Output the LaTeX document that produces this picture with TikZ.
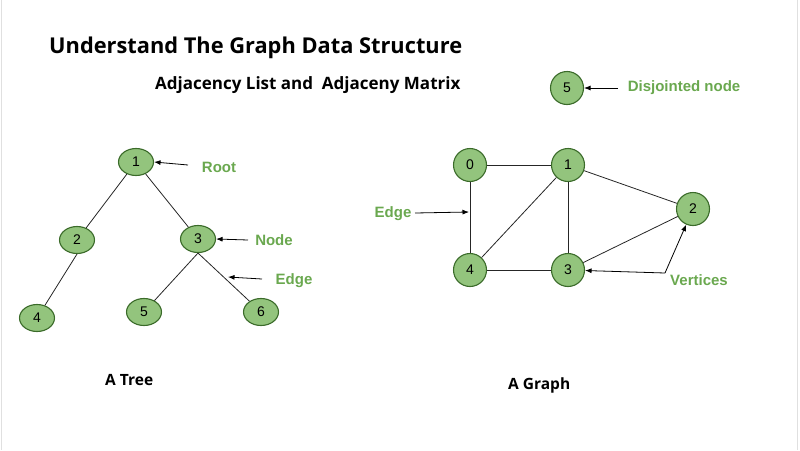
\documentclass[tikz,border=0pt]{standalone}
\usepackage{fontspec}
\setmainfont{Liberation Sans}
\newfontfamily\titlefont{Open Sans}
\usetikzlibrary{shapes.geometric,arrows.meta}
\definecolor{nodefill}{HTML}{93C47D}
\definecolor{nodedraw}{HTML}{3B6B2A}
\definecolor{labgreen}{HTML}{6AA84F}
\tikzset{
  treenode/.style={ellipse,draw=nodedraw,fill=nodefill,line width=1.1pt,minimum width=35pt,minimum height=27pt,inner sep=0pt,font=\fontsize{14}{14}\selectfont},
  graphnode/.style={circle,draw=nodedraw,fill=nodefill,line width=1.1pt,minimum size=33pt,inner sep=0pt,font=\fontsize{14}{14}\selectfont},
  edgeline/.style={draw=black!85,line width=0.8pt},
  pointer/.style={draw=black,line width=0.8pt,-{Latex[length=6.5pt,width=5pt]}},
  greenlabel/.style={text=labgreen,font=\fontsize{15}{15}\selectfont\bfseries,inner sep=0pt},
  blacklabel/.style={text=black,font=\titlefont\bfseries\fontsize{15.5}{15.5}\selectfont,inner sep=0pt}
}
\begin{document}
\begin{tikzpicture}[x=1pt,y=-1pt]
\useasboundingbox (0,0) rectangle (800,450);
\draw[black!12,line width=0.6pt] (1.5,0) -- (1.5,450);
\draw[black!12,line width=0.6pt] (797,0) -- (797,450);
% titles
\node[blacklabel,anchor=west,font=\titlefont\bfseries\fontsize{21.8}{21.8}\selectfont] (title) at (49,48) {Understand The Graph Data Structure};
\node[blacklabel,anchor=west,font=\titlefont\bfseries\fontsize{17}{17}\selectfont] (subtitle) at (155,85) {Adjacency List and\ \ Adjaceny Matrix};
\node[blacklabel,anchor=west] (treecap) at (105,380) {A Tree};
\node[blacklabel,anchor=west] (graphcap) at (508,385) {A Graph};
% tree
\node[treenode] (t1) at (136,162) {1};
\node[treenode] (t2) at (77,240) {2};
\node[treenode] (t3) at (198,239) {3};
\node[treenode] (t4) at (37,318) {4};
\node[treenode] (t5) at (144,312) {5};
\node[treenode] (t6) at (261,312) {6};
\draw[edgeline] (t1) -- (t2);
\draw[edgeline] (t1) -- (t3);
\draw[edgeline] (t2.south) -- (t4);
\draw[edgeline] (t3.south) -- (t5);
\draw[edgeline] (t3.south) -- (t6);
\node[greenlabel] (root) at (219,167) {Root};
\node[greenlabel] (nodelab) at (274,240) {Node};
\node[greenlabel] (edgelab) at (294,281) {Edge};
\coordinate (rootstart) at (188,165);
\coordinate (nodestart) at (248,240);
\coordinate (edgestart) at (262,279);
\coordinate (edgeend) at (228,277);
\draw[pointer] (rootstart) -- (t1.east);
\draw[pointer] (nodestart) -- (t3.east);
\draw[pointer] (edgestart) -- (edgeend);
% graph
\node[graphnode] (g5) at (567,88) {5};
\node[graphnode] (g0) at (470,165) {0};
\node[graphnode] (g1) at (568,165) {1};
\node[graphnode] (g2) at (693,209) {2};
\node[graphnode] (g4) at (470,270) {4};
\node[graphnode] (g3) at (568,270) {3};
\draw[edgeline] (g0) -- (g1);
\draw[edgeline] (g0) -- (g4);
\draw[edgeline] (g4) -- (g1);
\draw[edgeline] (g4) -- (g3);
\draw[edgeline] (g1) -- (g3);
\draw[edgeline] (g1) -- (g2);
\draw[edgeline] (g3) -- (g2);
\node[greenlabel] (disj) at (684,88) {Disjointed node};
\coordinate (disjstart) at (618,88);
\draw[pointer] (disjstart) -- (g5.east);
\node[greenlabel] (gedge) at (393,214) {Edge};
\coordinate (gedgestart) at (415,213);
\coordinate (gedgeend) at (469,212);
\draw[pointer] (gedgestart) -- (gedgeend);
\node[greenlabel] (vert) at (699,280) {Vertices};
\coordinate (vstart) at (665,273);
\draw[pointer] (vstart) -- (g3);
\draw[pointer] (vstart) -- (g2);
\end{tikzpicture}
\end{document}
